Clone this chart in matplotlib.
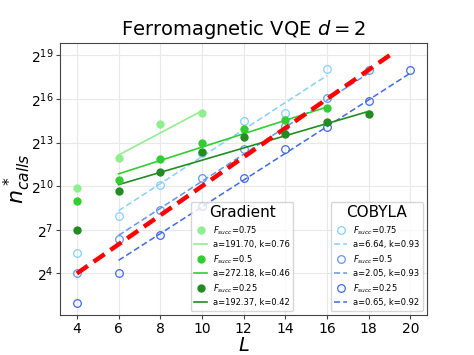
import numpy as np
import matplotlib.pyplot as plt
from matplotlib.ticker import LogFormatterSciNotation, NullLocator

# values are log2(n_calls)
L_grad_75 = [4, 6, 8, 10]
e_grad_75 = [9.88, 11.92, 14.27, 15.03]
L_grad_50 = [4, 6, 8, 10, 12, 14, 16]
e_grad_50 = [8.96, 10.46, 11.89, 12.96, 13.94, 14.58, 15.39]
L_grad_25 = [4, 6, 8, 10, 12, 14, 16, 18]
e_grad_25 = [7.02, 9.65, 11.0, 12.33, 13.36, 13.62, 14.4, 14.95]

L_coby_75 = [4, 6, 8, 10, 12, 14, 16]
e_coby_75 = [5.38, 7.97, 10.06, 12.3, 14.45, 15.05, 18.09]
L_coby_50 = [4, 6, 8, 10, 12, 14, 16, 18]
e_coby_50 = [4.0, 6.35, 8.38, 10.57, 12.55, 14.15, 16.06, 17.98]
L_coby_25 = [4, 6, 8, 10, 12, 14, 16, 18, 20]
e_coby_25 = [2.0, 4.0, 6.65, 8.64, 10.55, 12.53, 14.06, 15.83, 17.98]

# fits n = a * 2^(k L), parameters from the legend
grad_a = [191.70, 272.18, 192.37]
grad_k = [0.76, 0.46, 0.42]
grad_fit_L = [(6, 10), (6, 16), (6, 18)]
coby_a = [6.64, 2.05, 0.65]
coby_k = [0.93, 0.93, 0.92]
coby_fit_L = [(6, 16), (6, 18), (6, 20)]

F_succ = ['0.75', '0.5', '0.25']
ref_L = [4, 19]

grad_colors = ['#90ee90', '#32cd32', '#228b22']
coby_colors = ['#87cefa', '#6495ed', '#4169e1']

fig = plt.figure(figsize=(4.74, 3.55), dpi=100)
ax = fig.add_axes([0.127, 0.113, 0.774, 0.766])

grad_L = [L_grad_75, L_grad_50, L_grad_25]
grad_e = [e_grad_75, e_grad_50, e_grad_25]
coby_L = [L_coby_75, L_coby_50, L_coby_25]
coby_e = [e_coby_75, e_coby_50, e_coby_25]

ax.plot(ref_L, 2.0 ** np.array(ref_L), color='red', linestyle=(0, (3, 1.6)), linewidth=3.2, zorder=4)

gh = []
for i in range(3):
    p, = ax.plot(grad_L[i], 2.0 ** np.array(grad_e[i]), linestyle='none', marker='o',
                 markersize=5, color=grad_colors[i], zorder=5, label='$F_{succ}$=' + F_succ[i])
    Lf = np.array(grad_fit_L[i])
    l, = ax.plot(Lf, grad_a[i] * 2.0 ** (grad_k[i] * Lf), color=grad_colors[i], linewidth=1.2,
                 zorder=3, label='a=%.2f, k=%.2f' % (grad_a[i], grad_k[i]))
    gh += [p, l]

ch = []
for i in range(3):
    p, = ax.plot(coby_L[i], 2.0 ** np.array(coby_e[i]), linestyle='none', marker='o',
                 markersize=5.5, markerfacecolor='none', markeredgecolor=coby_colors[i],
                 markeredgewidth=0.9, zorder=2, label='$F_{succ}$=' + F_succ[i])
    Lf = np.array(coby_fit_L[i])
    l, = ax.plot(Lf, coby_a[i] * 2.0 ** (coby_k[i] * Lf), color=coby_colors[i], linewidth=1.1,
                 linestyle=(0, (4, 2)), zorder=2, label='a=%.2f, k=%.2f' % (coby_a[i], coby_k[i]))
    ch += [p, l]

ax.set_yscale('log', base=2)
ax.set_yticks([2.0 ** e for e in [4, 7, 10, 13, 16, 19]])
ax.yaxis.set_major_formatter(LogFormatterSciNotation(base=2))
ax.yaxis.set_minor_locator(NullLocator())
ax.set_xticks([4, 6, 8, 10, 12, 14, 16, 18, 20])
ax.tick_params(labelsize=10, color='#444444', length=3, pad=2)

ax.grid(True, color='#e8e8e8', linewidth=0.8, zorder=0)
ax.set_axisbelow(True)
for s in ax.spines.values():
    s.set_color('#444444')

ax.set_title('Ferromagnetic VQE $d=2$', fontsize=14)
ax.set_xlabel('$L$', fontsize=14, labelpad=0)
ax.set_ylabel('$n^*_{calls}$', fontsize=16)
ax.yaxis.set_label_coords(-0.075, 0.5)

leg_kw = dict(loc='lower right', fontsize=6.0, title_fontsize=11, handlelength=1.6,
              borderpad=0.4, labelspacing=0.45, handletextpad=0.7, edgecolor='#cccccc')
leg1 = ax.legend(handles=gh, title='Gradient', bbox_to_anchor=(0.647, 0.0), **leg_kw)
ax.add_artist(leg1)
ax.legend(handles=ch, title='COBYLA', bbox_to_anchor=(1.0, 0.0), **leg_kw)

fig.savefig('out.png', dpi=100)
